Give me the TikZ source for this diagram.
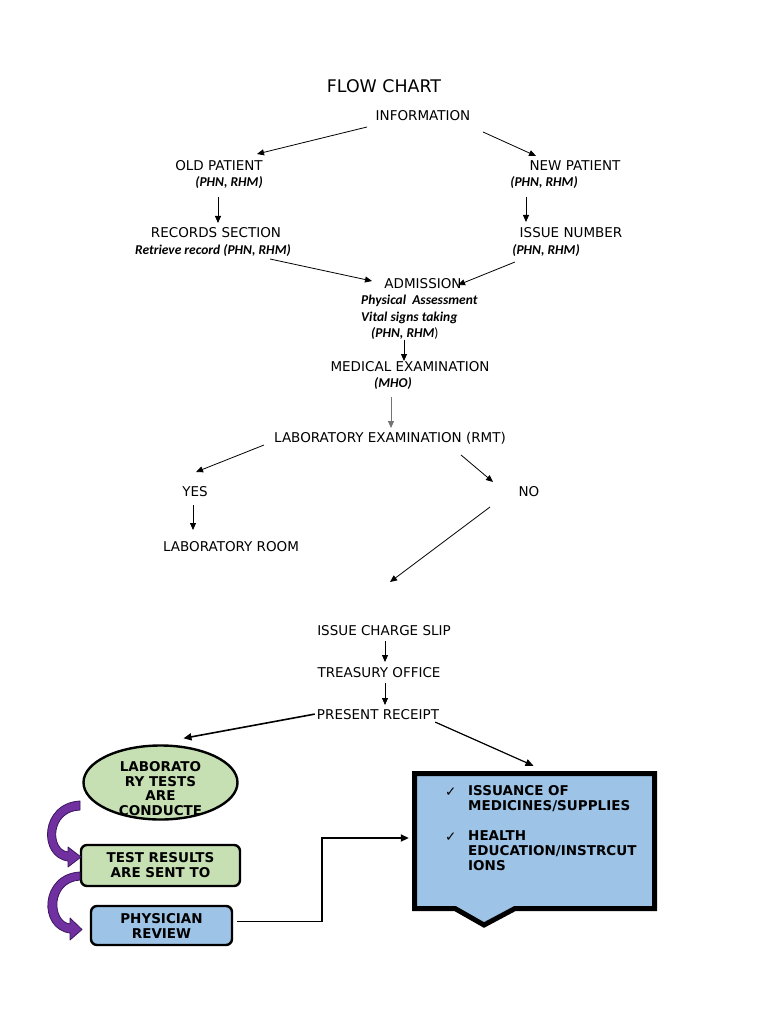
\documentclass[tikz,border=0pt]{standalone}
\usepackage{fontspec}
\setmainfont{DejaVu Sans}
\newfontfamily\subfont{Carlito}
\usetikzlibrary{arrows.meta,shapes.geometric,calc}
\definecolor{lgreen}{HTML}{C6E0B4}
\definecolor{lblue}{HTML}{9DC3E6}
\definecolor{purp}{HTML}{7030A0}
\definecolor{purpdark}{HTML}{3C1660}
\begin{document}
\begin{tikzpicture}[x=1pt,y=-1pt,
  txt/.style={font=\fontsize{13.5}{16}\selectfont, inner sep=0pt, anchor=base},
  sub/.style={font=\subfont\bfseries\itshape\fontsize{13.5}{16}\selectfont, inner sep=0pt, anchor=base},
  boldtxt/.style={font=\bfseries\fontsize{13.5}{15}\selectfont, align=center},
  arr/.style={-{Triangle[length=7pt,width=6pt]}, line width=0.8pt},
  thickarr/.style={-{Triangle[length=8pt,width=7pt]}, line width=1.6pt},
  rbox/.style={draw, line width=2.4pt, rounded corners=6pt, inner sep=0pt, boldtxt},
  chk/.style={font=\fontsize{13.5}{15}\selectfont, inner sep=0pt, anchor=base west},
  purparrow/.style={fill=purp, draw=purpdark, line width=0.8pt, line join=round}
]
\useasboundingbox (0,0) rectangle (768,1024);
\fill[white] (0,0) rectangle (768,1024);

% ---- text nodes ----
\node[txt, font=\fontsize{17.4}{20}\selectfont] (title) at (384,93) {FLOW CHART};
\node[txt] (info) at (423,121) {INFORMATION};
\node[txt] (old) at (219,171) {OLD PATIENT};
\node[sub] (oldsub) at (229,187) {(PHN, RHM)};
\node[txt] (new) at (575,171) {NEW PATIENT};
\node[sub] (newsub) at (544,187) {(PHN, RHM)};
\node[txt] (records) at (216,237) {RECORDS SECTION};
\node[sub] (recsub) at (213,254) {Retrieve record (PHN, RHM)};
\node[txt] (issue) at (571,237) {ISSUE NUMBER};
\node[sub] (issuesub) at (546,254) {(PHN, RHM)};
\node[txt] (adm) at (423,288) {ADMISSION};
\node[sub, anchor=base west] (admA) at (361,304) {Physical\ \ Assessment};
\node[sub, anchor=base west] (admB) at (361,321) {Vital signs taking};
\node[sub, anchor=base west] (admC) at (371,337) {(PHN, RHM\textup{\mdseries )}};
\node[txt] (med) at (410,371) {MEDICAL EXAMINATION};
\node[sub] (mho) at (393,387) {(MHO)};
\node[txt] (labex) at (390,442) {LABORATORY EXAMINATION (RMT)};
\node[txt] (yes) at (195,496) {YES};
\node[txt] (no) at (529,496) {NO};
\node[txt] (labroom) at (231,551) {LABORATORY ROOM};
\node[txt] (charge) at (384,635) {ISSUE CHARGE SLIP};
\node[txt] (treas) at (379,677) {TREASURY OFFICE};
\node[txt] (receipt) at (378,719) {PRESENT RECEIPT};

% ---- arrows (top part) ----
\draw[arr] ([shift={(-56,6)}]info.base) -- ([shift={(38,-17)}]old.base);
\draw[arr] ([shift={(60,11)}]info.base) -- ([shift={(-39,-15)}]new.base);
\draw[arr] ([shift={(-11,10)}]oldsub.base) -- ([shift={(2,-14)}]records.base);
\draw[arr] ([shift={(-18,10)}]newsub.base) -- ([shift={(-45,-15)}]issue.base);
\draw[arr] ([shift={(57,5)}]recsub.base) -- ([shift={(-51,-7)}]adm.base);
\draw[arr] ([shift={(-31,8)}]issuesub.base) -- ([shift={(35,-3)}]adm.base);
\draw[arr] ([shift={(33,3)}]admC.base west) -- ([shift={(-6,-10)}]med.base);
\draw[arr, draw=black!55] ([shift={(-2,10)}]mho.base) -- ([shift={(1,-14)}]labex.base);
\draw[arr] ([shift={(-126,3)}]labex.base) -- ([shift={(1,-24)}]yes.base);
\draw[arr] ([shift={(71,13)}]labex.base) -- ([shift={(-36,-14)}]no.base);
\draw[arr] ([shift={(-2,9)}]yes.base) -- ([shift={(-38,-21)}]labroom.base);
\draw[arr] ([shift={(-39,11)}]no.base) -- ([shift={(6,-53)}]charge.base);
\draw[arr] ([shift={(1,6)}]charge.base) -- ([shift={(6,-15)}]treas.base);
\draw[arr] ([shift={(6,6)}]treas.base) -- ([shift={(7,-14)}]receipt.base);

% ---- lower shapes ----
\node[ellipse, draw, line width=2.4pt, fill=lgreen, minimum width=154pt, minimum height=74pt, inner sep=0pt] (ell) at (160.5,782.5) {};
\node[boldtxt, font=\bfseries\fontsize{13.5}{14.7}\selectfont, inner sep=0pt] (ellt) at (160.5,788.5) {LABORATO\\RY TESTS\\ARE\\CONDUCTE};
\node[rbox, fill=lgreen, minimum width=159pt, minimum height=41pt] (test) at (160.5,865.5) {TEST RESULTS\\ARE SENT TO};
\node[rbox, fill=lblue, minimum width=141pt, minimum height=39pt] (phys) at (161.5,925.5) {PHYSICIAN\\REVIEW};

% big box with notch
\draw[line width=5pt, fill=lblue, line join=miter]
  (414.5,773.5) -- (654.5,773.5) -- (654.5,908.5) -- (515,908.5) -- (484,925)
  -- (455,908.5) -- (414.5,908.5) -- cycle;
\node[minimum width=245pt, minimum height=140pt, inner sep=0pt] (box) at (534.5,841) {};
\node[chk] (chk1) at (445,796) {✓};
\node[font=\bfseries\fontsize{13.5}{15}\selectfont, align=left, inner sep=0pt, anchor=west] (item1) at (468,798.5) {ISSUANCE OF\\MEDICINES/SUPPLIES};
\node[chk] (chk2) at (445,841) {✓};
\node[font=\bfseries\fontsize{13.5}{15}\selectfont, align=left, inner sep=0pt, anchor=west] (item2) at (468,851) {HEALTH\\EDUCATION/INSTRCUT\\IONS};

% arrows from PRESENT RECEIPT
\draw[thickarr] ([xshift=-2pt]receipt.west) -- ([shift={(23,-6)}]ell.north);
\draw[-{Triangle[length=8pt,width=7pt]}, line width=1.2pt] ([shift={(-4,8)}]receipt.east) -- ([shift={(-1,-5)}]box.north);

% physician -> box connector
\draw[-{Triangle[length=8pt,width=7pt]}, line width=1.8pt] ([shift={(4,-4)}]phys.east) -- ++(85,0) |- ([shift={(-3,-3)}]box.west);

% purple curved arrows
\draw[purparrow] (80,801) .. controls (40,803) and (38,857) .. (68,861) -- (68,867) -- (81,857)
  -- (68,847) -- (68,852) .. controls (50,850) and (50,811) .. (80,810) -- cycle;
\draw[purparrow] (80,872) .. controls (40,874) and (38,929) .. (70,933) -- (70,940) -- (82,929.5)
  -- (70,918) -- (70,924) .. controls (52,922) and (50,882) .. (80,880) -- cycle;
\end{tikzpicture}
\end{document}
